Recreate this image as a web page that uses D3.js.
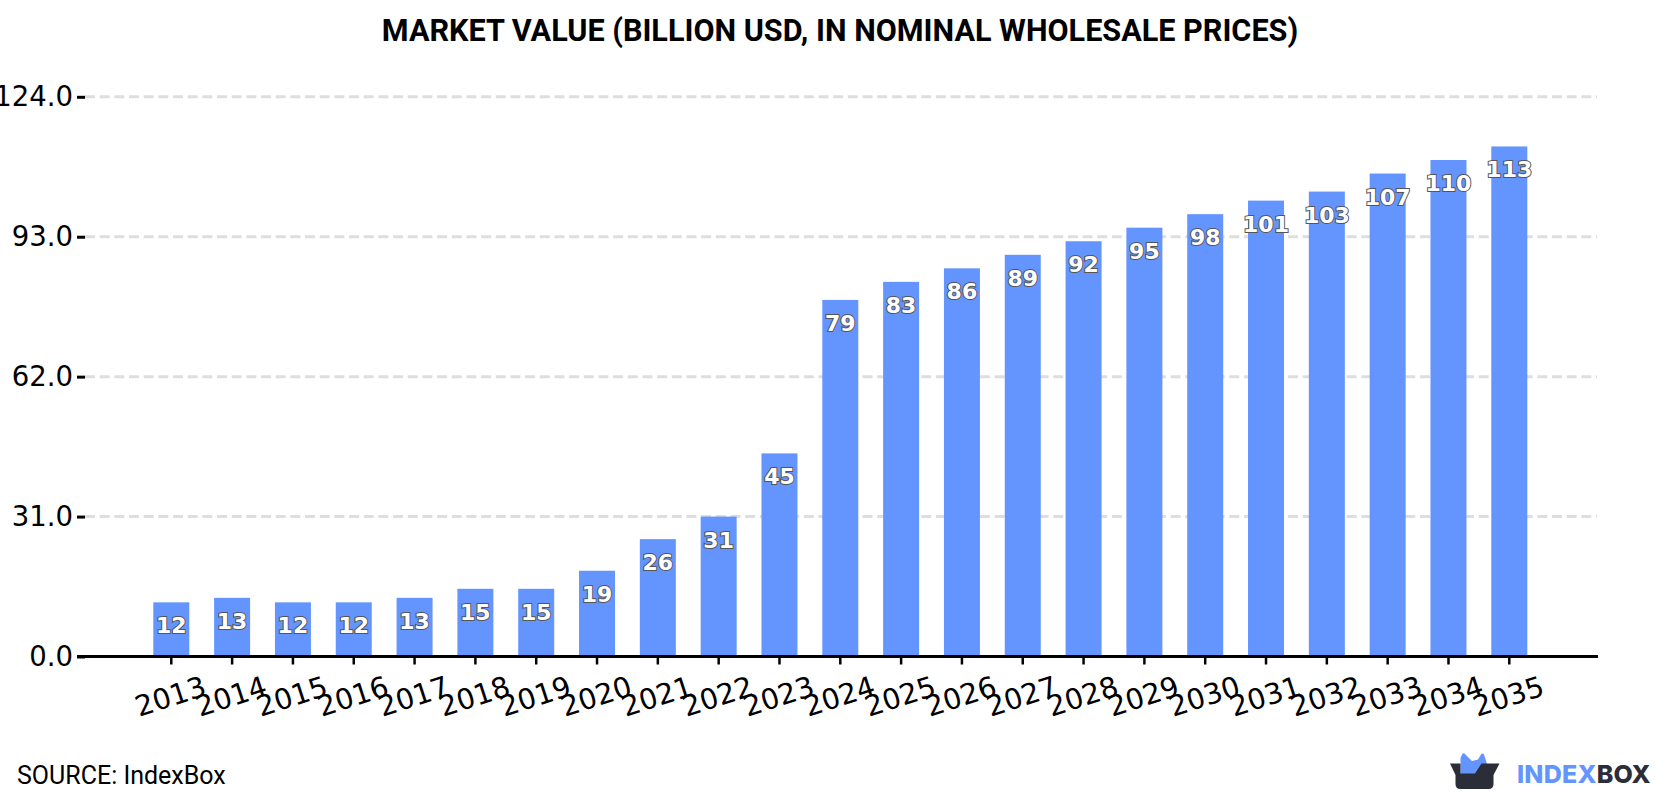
<!DOCTYPE html>
<html>
<head>
<meta charset="utf-8">
<script src="https://cdn.jsdelivr.net/npm/d3@7/dist/d3.min.js"></script>
<style>
  html, body { margin: 0; padding: 0; background: #fff; }
  svg { display: block; }
</style>
</head>
<body>
<svg id="chart" width="1680" height="800"></svg>
<script>
const titleText = "MARKET VALUE (BILLION USD, IN NOMINAL WHOLESALE PRICES)";
const sourceText = "SOURCE: IndexBox";
const years = [2013, 2014, 2015, 2016, 2017, 2018, 2019, 2020, 2021, 2022, 2023, 2024,
               2025, 2026, 2027, 2028, 2029, 2030, 2031, 2032, 2033, 2034, 2035];
const marketValues = [12, 13, 12, 12, 13, 15, 15, 19, 26, 31, 45, 79,
                      83, 86, 89, 92, 95, 98, 101, 103, 107, 110, 113];
const yTicks = [0, 31, 62, 93, 124];

const BAR = "#6495ff", DARK = "#2b2d38", GRID = "#dedede";
const NUM_FONT = "'DejaVu Sans', sans-serif";

const svg = d3.select("#chart");

const step = 60.82;
const x = d3.scaleBand()
  .domain(years)
  .range([171.3 - step / 2, 1509.3 + step / 2])
  .paddingInner(1 - 36 / step)
  .paddingOuter((1 - 36 / step) / 2);
const y = d3.scaleLinear().domain([0, 124]).range([656.5, 96.8]);

// Dashed horizontal grid
svg.append("g").selectAll("line")
  .data(yTicks.filter(d => d > 0))
  .join("line")
  .attr("x1", 85).attr("x2", 1597)
  .attr("y1", d => y(d)).attr("y2", d => y(d))
  .attr("stroke", GRID).attr("stroke-width", 3)
  .attr("stroke-dasharray", "10 4.67");

// Bars
svg.append("g").selectAll("rect")
  .data(years.map((year, i) => ({ year, value: marketValues[i] })))
  .join("rect")
  .attr("x", d => x(d.year))
  .attr("y", d => y(d.value))
  .attr("width", x.bandwidth())
  .attr("height", d => y(0) - y(d.value))
  .attr("fill", BAR);

// Left axis: short ticks, no domain line
const yAxis = svg.append("g")
  .attr("transform", "translate(85,0)")
  .call(d3.axisLeft(y).tickValues(yTicks).tickFormat(d3.format(".1f")).tickSize(8).tickPadding(4));
yAxis.select(".domain").remove();
yAxis.selectAll(".tick line").attr("stroke", "#000").attr("stroke-width", 3);
yAxis.selectAll("text")
  .attr("fill", "#000")
  .style("font-family", NUM_FONT)
  .style("font-size", "27.5px");

// Bottom axis with tilted year labels
const xAxis = svg.append("g")
  .attr("transform", "translate(0,656.5)")
  .call(d3.axisBottom(x).tickSize(0).tickFormat(d3.format("d")));
xAxis.select(".domain").remove();
xAxis.selectAll(".tick text").remove();
xAxis.selectAll(".tick line")
  .attr("y2", 8).attr("stroke", "#000").attr("stroke-width", 2.5);
xAxis.selectAll(".tick").append("text")
  .text(d => d)
  .attr("text-anchor", "middle")
  .attr("fill", "#000")
  .attr("transform", "translate(-1,39.5) rotate(-18)")
  .attr("dy", "0.36em")
  .style("font-family", NUM_FONT)
  .style("font-size", "28.5px");

// Baseline
svg.append("line")
  .attr("x1", 77).attr("x2", 1598)
  .attr("y1", y(0)).attr("y2", y(0))
  .attr("stroke", "#000").attr("stroke-width", 3);

// Value labels inside the bars
svg.append("g").selectAll("text")
  .data(years.map((year, i) => ({ year, value: marketValues[i] })))
  .join("text")
  .text(d => d.value)
  .attr("x", d => x(d.year) + x.bandwidth() / 2)
  .attr("y", d => y(d.value) + 31)
  .attr("text-anchor", "middle")
  .attr("fill", "#fff")
  .attr("stroke", "#555")
  .attr("stroke-width", 2)
  .attr("paint-order", "stroke")
  .style("font-family", NUM_FONT)
  .style("font-weight", 700)
  .style("font-size", "22px");

// Title and source note
svg.append("text")
  .text(titleText)
  .attr("x", 840).attr("y", 41)
  .attr("text-anchor", "middle")
  .attr("fill", "#000")
  .style("font-family", "Roboto, sans-serif")
  .style("font-weight", 700)
  .style("font-size", "30.6px");

svg.append("text")
  .text(sourceText)
  .attr("x", 17).attr("y", 784)
  .attr("fill", "#000")
  .style("font-family", "Roboto, sans-serif")
  .style("font-size", "25px");

// Logo: open box with two blue flaps, then the wordmark
const logo = svg.append("g").attr("transform", "translate(1440,745)");
logo.append("path")
  .attr("fill", BAR)
  .attr("d", "M20.5 19 L20.5 13 L22 9.5 Q23.5 7 25.5 9.5 L32 16 L38 14.5 L41 9.5 Q42.5 7.5 44 9.5 L47 19 L36 29 L20.5 29 Z");
logo.append("path")
  .attr("fill", DARK)
  .attr("d", "M10 18.5 L20.5 18.5 L20.5 28.5 L35 28.5 L41.5 18.5 L59.5 18.5 L53.5 30 L53.5 39 Q53.5 44 48.5 44 L20.5 44 Q15.5 44 15.5 39 L15.5 30 Z");
const wordmark = svg.append("text")
  .attr("x", 1517).attr("y", 783)
  .style("font-family", "Inter, Roboto, sans-serif")
  .style("font-weight", 800)
  .style("font-size", "25px")
  .style("letter-spacing", "0.2px");
wordmark.append("tspan").attr("fill", BAR).text("INDEX");
wordmark.append("tspan").attr("fill", DARK).text("BOX");
</script>
</body>
</html>
